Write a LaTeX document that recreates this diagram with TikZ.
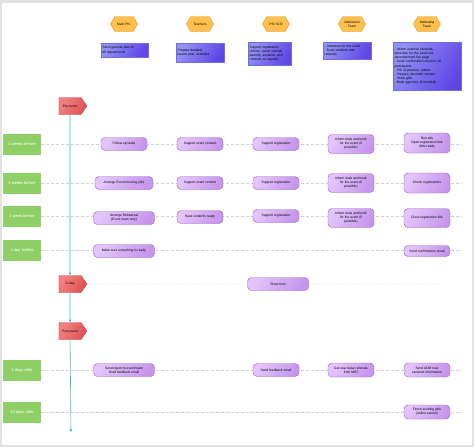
\documentclass[tikz,border=0pt]{standalone}
\usepackage{fontspec}
\setmainfont{Liberation Sans}
\usetikzlibrary{shapes.symbols,arrows.meta}

\definecolor{framegray}{RGB}{226,226,226}
\definecolor{rolefill}{RGB}{255,192,77}
\definecolor{roleedge}{RGB}{226,150,40}
\definecolor{dutyA}{RGB}{146,146,246}
\definecolor{dutyB}{RGB}{96,70,228}
\definecolor{dutyedge}{RGB}{110,110,220}
\definecolor{phasefill}{RGB}{242,128,128}
\definecolor{phaseB}{RGB}{222,82,82}
\definecolor{phaseedge}{RGB}{196,70,70}
\definecolor{whenfill}{RGB}{143,208,102}
\definecolor{taskA}{RGB}{228,196,250}
\definecolor{taskB}{RGB}{198,150,236}
\definecolor{taskedge}{RGB}{150,100,190}
\definecolor{rowgray}{RGB}{200,210,215}
\definecolor{flowteal}{RGB}{62,178,204}

\tikzset{
  role/.style={signal, signal to=east and west, signal pointer angle=120,
    draw=roleedge, fill=rolefill, line width=0.4pt, minimum width=27pt,
    minimum height=15pt, inner sep=0.5pt, align=center,
    font=\fontsize{3.3}{3.9}\selectfont},
  duty/.style={draw=dutyedge, line width=0.3pt, left color=dutyA, right color=dutyB,
    shading angle=60, anchor=north west, align=left, inner sep=1.5pt,
    font=\fontsize{3.3}{4.1}\selectfont},
  phase/.style={signal, signal to=east, signal pointer angle=110,
    draw=phaseedge, line width=0.4pt, left color=phasefill, right color=phaseB,
    shading angle=60, minimum width=28pt, minimum height=17pt, inner sep=0.5pt,
    font=\fontsize{3.3}{3.9}\selectfont},
  when/.style={fill=whenfill, text=white, minimum width=38pt, minimum height=21pt,
    inner sep=0.5pt, font=\fontsize{4}{5}\selectfont},
  task/.style={draw=taskedge, line width=0.4pt, rounded corners=4pt,
    left color=taskA, right color=taskB, shading angle=60,
    minimum width=46pt, minimum height=13pt, inner sep=1pt, align=center,
    font=\fontsize{3.3}{3.9}\selectfont},
  rowline/.style={draw=rowgray, line width=0.35pt, dash pattern=on 2.5pt off 2.5pt},
  flow/.style={draw=flowteal, line width=0.6pt, -{Stealth[length=3pt,width=2.6pt]}}
}

\begin{document}
\begin{tikzpicture}[x=1pt,y=-1pt]
  \useasboundingbox (0,0) rectangle (474,447);
  \fill[framegray] (0,0) rectangle (474,447);
  \fill[white] (2,3) rectangle (472,445);

  % teams
  \node[role] (pic) at (124,24) {Main PIC};
  \node[role] (teach) at (200,24) {Teachers};
  \node[role] (psi) at (276,24) {PSI SCO};
  \node[role] (adm) at (352,24) {Admission\\Team};
  \node[role] (mkt) at (427,24) {Marketing\\Team};

  \node[duty, text width=44pt, minimum height=14pt] (picjob) at (101,43)
    {Send general plan to\\all departments};
  \node[duty, text width=45pt, minimum height=19pt] (teachjob) at (176,43)
    {Prepare detailed\\lesson plan, activities};
  \node[duty, text width=40pt, minimum height=23pt] (psijob) at (248,42)
    {Support registration\\(inform, assist internal\\parents, students, and\\referrals to register)};
  \node[duty, text width=45pt, minimum height=17pt] (admjob) at (323,42)
    {- Advertise for the event\\- Book students and\\referrals};
  \node[duty, text width=65pt, minimum height=48pt] (mktjob) at (393,42)
    {- Inform external students,\\advertise for the event via\\advertisement fan page\\- Send confirmation email to all\\participants\\- PIC of pictures, videos\\- Prepare, decorate venues\\- Show gifts\\- Book agencies (if needed)};

  % time rows
  \node[when] (w4) at (22,144) {4 weeks before};
  \node[when] (w3) at (22,183) {3 weeks before};
  \node[when] (w1) at (22,216) {1 week before};
  \node[when] (d1) at (22,250) {1 day\ \ before};
  \node[when] (a2) at (22,370) {2 days after};
  \node[when] (a10) at (22,412) {10 days after};

  \coordinate (w4end) at (462,144);
  \coordinate (w3end) at (462,183);
  \coordinate (w1end) at (462,216);
  \coordinate (d1end) at (462,250);
  \coordinate (a2end) at (462,370);
  \coordinate (a10end) at (462,412);
  \coordinate (ddend) at (440,284);
  \coordinate (flowend) at (71,432);

  \draw[rowline] (w4) -- (w4end);
  \draw[rowline] (w3) -- (w3end);
  \draw[rowline] (w1) -- (w1end);
  \draw[rowline] (d1) -- (d1end);
  \draw[rowline] (a2) -- (a2end);
  \draw[rowline] (a10) -- (a10end);

  % phases
  \node[phase] (pre) at (70,106) {Pre-event};
  \node[phase] (dday) at (70,284) {D-day};
  \node[phase] (post) at (70,331) {Post-event};

  \draw[rowline] (dday) -- (ddend);

  \draw[flow] (pre) -- (dday);
  \draw[flow] (dday) -- (post);
  \draw[flow] (post) -- (flowend);

  % 4 weeks before
  \node[task] (t41) at (124,144) {Follow up tasks};
  \node[task] (t42) at (200,144) {Support event content};
  \node[task] (t43) at (276,144) {Support registration};
  \node[task, minimum height=19pt] (t44) at (351,144) {Inform trials and book\\for the event (if\\possible)};
  \node[task, minimum height=20pt] (t45) at (427,143) {Run ads\\Open registration link\\Gifts ready};

  % 3 weeks before
  \node[task, minimum width=58pt] (t31) at (124,183) {Arrange Event meeting (All)};
  \node[task] (t32) at (200,183) {Support event content};
  \node[task] (t33) at (276,183) {Support registration};
  \node[task, minimum height=19pt] (t34) at (351,183) {Inform trials and book\\for the event (if\\possible)};
  \node[task, minimum height=20pt] (t35) at (427,183) {Check registrations};

  % 1 week before
  \node[task, minimum width=61pt] (t11) at (124,218) {Arrange Rehearsal\\(Event team only)};
  \node[task] (t12) at (200,217) {Have contents ready};
  \node[task] (t13) at (276,216) {Support registration};
  \node[task, minimum height=19pt] (t14) at (351,218) {Inform trials and book\\for the event (if\\possible)};
  \node[task, minimum height=19pt] (t15) at (427,218) {Close registration link};

  % 1 day before
  \node[task, minimum width=61pt] (t01) at (124,251) {Make sure everything is ready};
  \node[task, minimum height=11pt] (t05) at (427,251) {Send confirmation email};

  % D-day
  \node[task, minimum width=61pt] (show) at (278,284) {Show time};

  % 2 days after
  \node[task, minimum width=61pt] (p21) at (124,370) {Send report to event team\\Draft feedback email};
  \node[task] (p23) at (276,370) {Send feedback email};
  \node[task, minimum height=14pt] (p24) at (351,370) {Get new data/ referrals\\from MKT};
  \node[task, minimum height=14pt] (p25) at (427,370) {Send ADM new\\students information};

  % 10 days after
  \node[task, minimum height=14pt] (p105) at (427,412) {Finish sending gifts\\(online events)};
\end{tikzpicture}
\end{document}
